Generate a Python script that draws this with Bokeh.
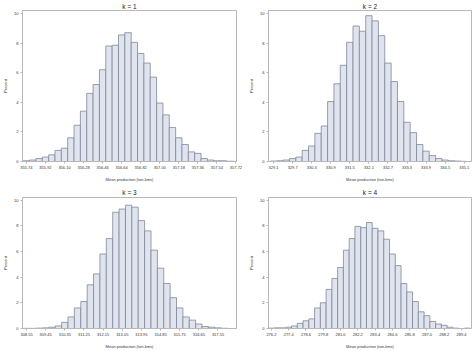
from bokeh.plotting import figure
from bokeh.layouts import column, row
from bokeh.models import FixedTicker, Range1d, PrintfTickFormatter
from bokeh.embed import file_html
from bokeh.resources import INLINE

# ---------------- data ----------------
titles = ["k = 1", "k = 2", "k = 3", "k = 4"]
x_label = "Mean production (ton-kms)"
y_label = "Percent"

# k = 1
k1_first_mid = 355.74
k1_bin_width = 0.06
k1_percent = [0.05, 0.1, 0.2, 0.3, 0.45, 0.75, 0.9, 1.6, 2.45, 3.4,
              4.6, 5.2, 6.2, 7.8, 7.85, 8.55, 8.7, 8.05, 7.3, 6.65,
              5.7, 3.95, 3.15, 2.3, 1.6, 1.15, 0.65, 0.55, 0.2, 0.1,
              0.05, 0.05, 0.02, 0.01]
k1_ticks = [355.74, 355.92, 356.10, 356.28, 356.46, 356.64, 356.82,
            357.00, 357.18, 357.36, 357.54, 357.72]
k1_tick_labels = ["355.74", "355.92", "356.10", "356.28", "356.46", "356.64",
                  "356.82", "357.00", "357.18", "357.36", "357.54", "357.72"]

# k = 2
k2_first_mid = 329.1
k2_bin_width = 0.2
k2_percent = [0.03, 0.05, 0.1, 0.2, 0.3, 0.75, 1.05, 1.9, 2.4, 4.05,
              5.25, 6.5, 8.05, 9.15, 8.8, 9.85, 9.5, 8.5, 6.65, 5.4,
              4.05, 2.65, 1.95, 1.15, 0.7, 0.4, 0.2, 0.1, 0.05, 0.03, 0.01]
k2_ticks = [329.1, 329.7, 330.3, 330.9, 331.5, 332.1, 332.7, 333.3,
            333.9, 334.5, 335.1]
k2_tick_labels = ["329.1", "329.7", "330.3", "330.9", "331.5", "332.1",
                  "332.7", "333.3", "333.9", "334.5", "335.1"]

# k = 3
k3_first_mid = 308.55
k3_bin_width = 0.3
k3_percent = [0.01, 0.01, 0.03, 0.05, 0.1, 0.2, 0.48, 0.9, 1.6, 2.1,
              3.4, 4.25, 5.8, 7.0, 9.05, 9.3, 9.6, 9.45, 8.4, 7.6,
              6.1, 4.7, 3.5, 2.4, 1.6, 0.9, 0.65, 0.35, 0.15, 0.1,
              0.05, 0.02]
k3_ticks = [308.55, 309.45, 310.35, 311.25, 312.15, 313.05, 313.95,
            314.85, 315.75, 316.65, 317.55]
k3_tick_labels = ["308.55", "309.45", "310.35", "311.25", "312.15", "313.05",
                  "313.95", "314.85", "315.75", "316.65", "317.55"]

# k = 4
k4_first_mid = 276.2
k4_bin_width = 0.4
k4_percent = [0.03, 0.05, 0.05, 0.1, 0.2, 0.4, 0.6, 0.75, 1.6, 2.0,
              3.05, 3.9, 4.75, 6.1, 7.0, 7.95, 7.85, 8.25, 7.8, 7.6,
              6.95, 5.8, 4.9, 3.5, 2.85, 2.1, 1.3, 1.0, 0.55, 0.35,
              0.25, 0.1, 0.03, 0.0, 0.03]
k4_ticks = [276.2, 277.4, 278.6, 279.8, 281.0, 282.2, 283.4, 284.6,
            285.8, 287.0, 288.2, 289.4]
k4_tick_labels = ["276.2", "277.4", "278.6", "279.8", "281.0", "282.2",
                  "283.4", "284.6", "285.8", "287.0", "288.2", "289.4"]

y_ticks = [0, 2, 4, 6, 8, 10]

# ---------------- styling ----------------
FONT = "Liberation Sans"
BAR_FILL = "#dfe4ee"
BAR_LINE = "#7f8899"
FRAME = "#b8b8b8"
TEXT = "#333333"


def make_panel(title, first_mid, bin_width, percent, ticks, tick_labels,
               x_start, x_end, fmt, w, h, bl, br, bt, bb, title_standoff):
    p = figure(width=w, height=h, output_backend="svg", toolbar_location=None,
               x_range=Range1d(x_start, x_end), y_range=Range1d(0, 10.2),
               min_border_left=bl, min_border_right=br,
               min_border_top=bt, min_border_bottom=bb, title=title)
    mids = [round(first_mid + i * bin_width, 4) for i in range(len(percent))]
    p.vbar(x=mids, top=percent, bottom=0, width=bin_width,
           fill_color=BAR_FILL, line_color=BAR_LINE, line_width=0.8)

    p.title.align = "center"
    p.title.text_font = FONT
    p.title.text_font_size = "6.5px"
    p.title.text_font_style = "normal"
    p.title.text_color = "#222222"
    p.title.standoff = title_standoff
    p.title.offset = 0

    p.xgrid.visible = False
    p.ygrid.visible = False
    p.outline_line_color = FRAME
    p.outline_line_width = 1
    p.background_fill_color = "white"
    p.border_fill_color = "white"

    p.xaxis.ticker = FixedTicker(ticks=ticks)
    p.xaxis.formatter = PrintfTickFormatter(format=fmt)
    p.xaxis.major_label_overrides = {t: l for t, l in zip(ticks, tick_labels)}
    p.yaxis.ticker = FixedTicker(ticks=y_ticks)

    for ax in (p.xaxis[0], p.yaxis[0]):
        ax.axis_line_color = FRAME
        ax.major_tick_line_color = FRAME
        ax.minor_tick_line_color = None
        ax.major_tick_out = 2
        ax.major_tick_in = 0
        ax.major_label_standoff = 2
        ax.major_label_text_font = FONT
        ax.major_label_text_font_size = "4px"
        ax.major_label_text_color = TEXT
        ax.axis_label_text_font = FONT
        ax.axis_label_text_font_size = "4px"
        ax.axis_label_text_font_style = "normal"
        ax.axis_label_text_color = TEXT

    p.xaxis.axis_label = x_label
    p.xaxis.axis_label_standoff = 5
    p.yaxis.axis_label = y_label
    p.yaxis.axis_label_standoff = 3
    return p


p1 = make_panel(titles[0], k1_first_mid, k1_bin_width, k1_percent, k1_ticks,
                k1_tick_labels, 355.703, 357.725, "%.2f",
                244, 184, 21, 8, 9, 21, 1)
p2 = make_panel(titles[1], k2_first_mid, k2_bin_width, k2_percent, k2_ticks,
                k2_tick_labels, 328.94, 335.33, "%.1f",
                230, 184, 24, 3, 9, 21, 1)
p3 = make_panel(titles[2], k3_first_mid, k3_bin_width, k3_percent, k3_ticks,
                k3_tick_labels, 308.36, 318.42, "%.2f",
                244, 167, 21, 8, 13, 19, 3)
p4 = make_panel(titles[3], k4_first_mid, k4_bin_width, k4_percent, k4_ticks,
                k4_tick_labels, 276.0, 290.09, "%.1f",
                230, 167, 24, 3, 13, 19, 3)

layout = column(row(p1, p2), row(p3, p4))

with open("out.html", "w") as f:
    f.write(file_html(layout, INLINE))
